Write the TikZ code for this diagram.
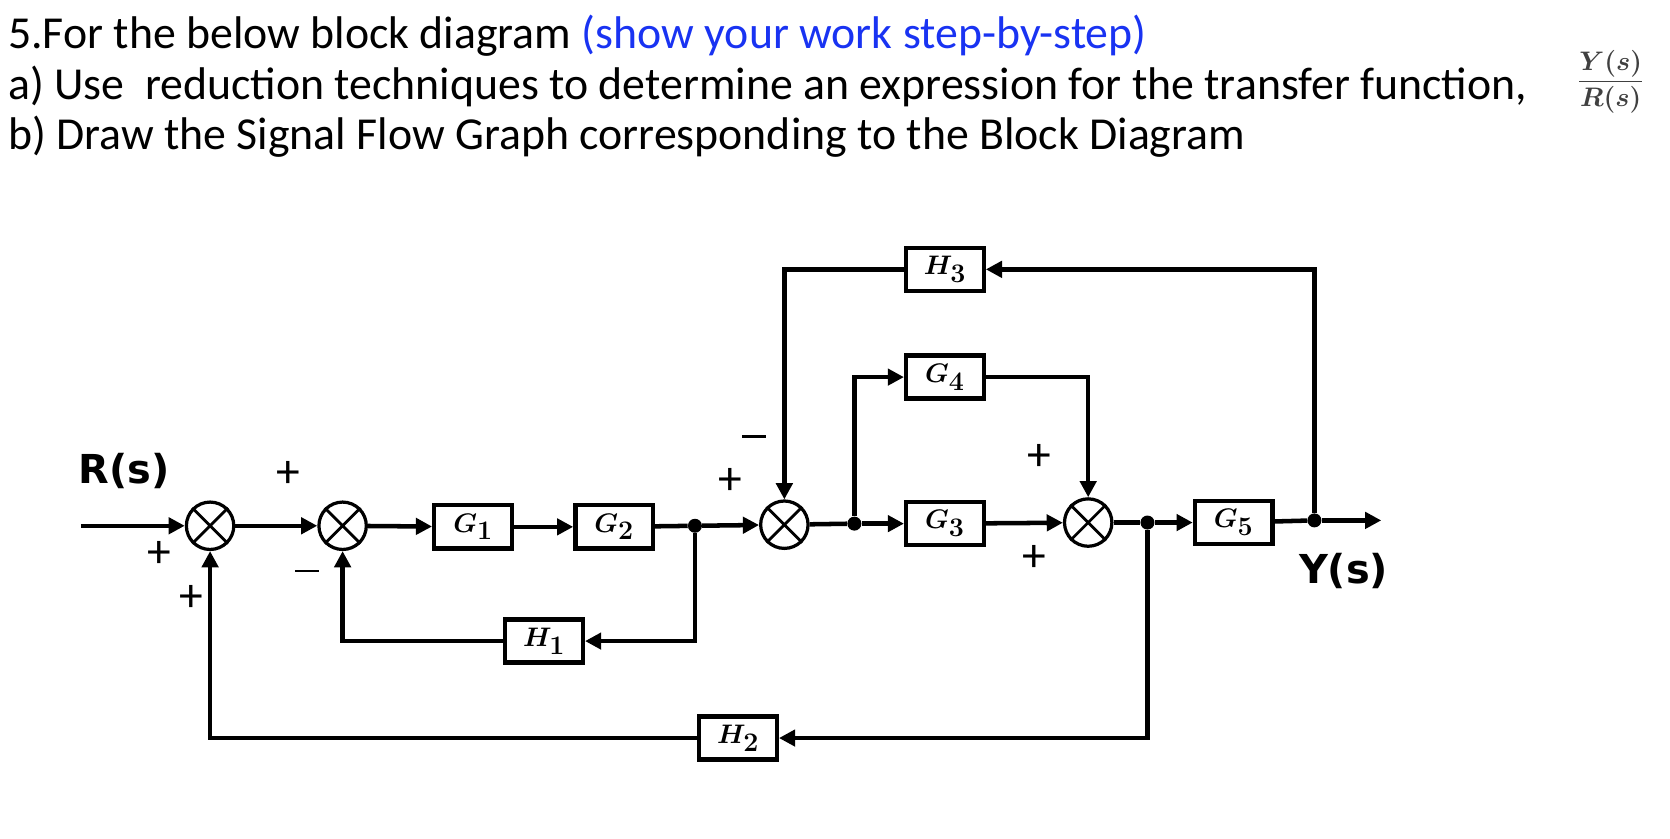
\documentclass[tikz,border=0pt]{standalone}
\usepackage{fontspec}
\usepackage{amsmath,bm}
\setmainfont{Carlito}
\newfontfamily\dejab{DejaVu Sans}
\usetikzlibrary{arrows.meta}
\begin{document}
\begin{tikzpicture}[x=1pt,y=-1pt,
  sum/.style={circle,draw,line width=3pt,minimum size=44pt,inner sep=0pt},
  blk/.style={draw,line width=4pt,minimum width=72pt,minimum height=40pt,inner sep=0pt,font=\fontsize{46}{46}\selectfont\boldmath},
  ln/.style={line width=4.2pt},
  ar/.style={ln,-{Triangle[length=15pt,width=15pt]}},
  dot/.style={circle,fill,inner sep=0pt,minimum size=13pt},
  sg/.style={font=\fontsize{44}{44}\selectfont}]
\useasboundingbox (0,0) rectangle (1550,778);
\node[anchor=base west,font=\fontsize{42.5}{42.5}\selectfont] (t1) at (4,45) {5.For the below block diagram \textcolor[rgb]{0.1,0.2,0.95}{(show your work step-by-step)}};
\node[anchor=base west,font=\fontsize{42.5}{42.5}\selectfont] (t2) at (4,92) {a) Use\ \ reduction techniques to determine an expression for the transfer function,};
\node[anchor=base west,font=\fontsize{42.5}{42.5}\selectfont] (t3) at (4,139) {b) Draw the Signal Flow Graph corresponding to the Block Diagram};
\node[font=\fontsize{30}{30}\selectfont,text=black!75] (fr) at (1495,76) {$\dfrac{\bm{Y(s)}}{\bm{R(s)}}$};
% summers
\foreach \n/\x/\y in {s1/195/488,s2/318/488,s3/728/487,s4/1010/485}{
  \node[sum] (\n) at (\x,\y) {};
  \draw[line width=2.6pt] (\n.45)--(\n.225) (\n.135)--(\n.315);}
\node[blk] (g1) at (439,489) {$G_1$};
\node[blk] (g2) at (570,489) {$G_2$};
\node[blk] (g3) at (877,486) {$G_3$};
\node[blk] (g5) at (1145,485) {$G_5$};
\node[blk] (g4) at (877,350) {$G_4$};
\node[blk] (h3) at (877,250) {$H_3$};
\node[blk] (h1) at (505,595) {$H_1$};
\node[blk] (h2) at (685,685) {$H_2$};
\node[dot] (d1) at (645,488) {};
\node[dot] (d2) at (793,486) {};
\node[dot] (d3) at (1065,485) {};
\node[dot] (d4) at (1220,483) {};
\coordinate (rin) at (75,488);
\coordinate (yout) at (1282,483);
\node[font=\fontsize{37}{37}\selectfont\dejab\bfseries] (rs) at (115,437) {R(s)};
\node[font=\fontsize{37}{37}\selectfont\dejab\bfseries] (ys) at (1247,530) {Y(s)};
% forward path
\draw[ar] (rin) -- (s1);
\draw[ar] (s1) -- (s2);
\draw[ar] (s2) -- (g1);
\draw[ar] (g1) -- (g2);
\draw[ln] (g2) -- (d1);
\draw[ar] (d1) -- (s3);
\draw[ln] (s3) -- (d2);
\draw[ar] (d2) -- (g3);
\draw[ar] (g3) -- (s4);
\draw[ln] (s4) -- (d3);
\draw[ar] (d3) -- (g5);
\draw[ln] (g5) -- (d4);
\draw[ar] (d4) -- (yout);
% G4 branch
\draw[ar] (d2) |- (g4);
\draw[ar] (g4) -| (s4);
% H3 loop
\draw[ar] (d4) |- (h3);
\draw[ar] (h3) -| (s3);
% H1 loop
\draw[ar] (d1) |- (h1);
\draw[ar] (h1) -| (s2);
% H2 loop
\draw[ar] (d3) |- (h2);
\draw[ar] (h2) -| (s1);
% signs
\node[sg] (p1) at (268,440) {+};
\node[sg] (p2) at (148,515) {+};
\node[sg] (p3) at (178,555) {+};
\node[sg] (m1) at (285,530) {\rule{22pt}{2.5pt}};
\node[sg] (p4) at (678,447) {+};
\node[sg] (m2) at (700,405) {\rule{22pt}{2.5pt}};
\node[sg] (p5) at (965,425) {+};
\node[sg] (p6) at (960,518) {+};
\end{tikzpicture}
\end{document}
